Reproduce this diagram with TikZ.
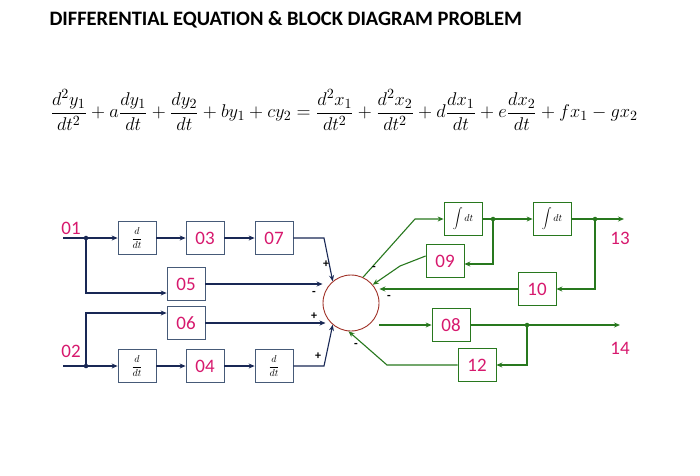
\documentclass[tikz,border=0pt]{standalone}
\usepackage{amsmath}
\usepackage{fontspec}
\setmainfont{Carlito}
\usetikzlibrary{arrows.meta}
\begin{document}
\begin{tikzpicture}[x=1pt,y=-1pt,
  navy/.style={draw={rgb,255:red,25;green,40;blue,85}, line width=1.1pt},
  grn/.style={draw={rgb,255:red,40;green,120;blue,30}, line width=1.1pt},
  arr/.style={-{Stealth[length=6pt,width=5pt]}},
  lbox/.style={draw={rgb,255:red,70;green,90;blue,120}, line width=0.8pt, minimum width=38pt, minimum height=33pt, inner sep=0pt, font=\fontsize{19}{19}\selectfont, text={rgb,255:red,215;green,25;blue,110}},
  rbox/.style={lbox, draw={rgb,255:red,40;green,120;blue,30}},
  mbox/.style={text=black, font=\fontsize{10}{10}\selectfont},
  lab/.style={font=\fontsize{19}{19}\selectfont, text={rgb,255:red,215;green,25;blue,110}},
  sg/.style={font=\fontsize{12}{12}\selectfont\bfseries},
  dot/.style={circle, fill, inner sep=1.6pt}]
\useasboundingbox (0,0) rectangle (700,475);
\fill[white] (0,0) rectangle (700,475);
\node[anchor=west, font=\fontsize{20.5}{20}\selectfont\bfseries] (title) at (46,20) {DIFFERENTIAL EQUATION \& BLOCK DIAGRAM PROBLEM};
\node[anchor=west, font=\fontsize{15}{15}\selectfont, scale=1.28, transform shape] (eq) at (46,110) {$\displaystyle \frac{d^2y_1}{dt^2}+a\frac{dy_1}{dt}+\frac{dy_2}{dt}+by_1+cy_2=\frac{d^2x_1}{dt^2}+\frac{d^2x_2}{dt^2}+d\frac{dx_1}{dt}+e\frac{dx_2}{dt}+fx_1-gx_2$};
% sum
\node[circle, draw={rgb,255:red,160;green,50;blue,40}, line width=0.9pt, minimum size=56pt, inner sep=0pt] (S) at (351,303) {};
% left boxes
\node[lbox,mbox] (d1) at (137,238) {$\dfrac{d}{dt}$};
\node[lbox] (b03) at (205,238) {03};
\node[lbox] (b07) at (274,238) {07};
\node[lbox] (b05) at (186,284) {05};
\node[lbox] (b06) at (186,323) {06};
\node[lbox,mbox] (d2) at (137,366) {$\dfrac{d}{dt}$};
\node[lbox] (b04) at (205,366) {04};
\node[lbox,mbox] (d3) at (274,366) {$\dfrac{d}{dt}$};
\node[lab] (l01) at (71,228) {01};
\node[lab] (l02) at (71,351) {02};
\coordinate (s1) at (63,238); \coordinate (s2) at (63,366);
\node[dot, fill={rgb,255:red,25;green,40;blue,85}] (j1) at (86,238) {};
\node[dot, fill={rgb,255:red,25;green,40;blue,85}] (j2) at (86,366) {};
\draw[navy] (s1) -- (j1);
\draw[navy,arr] (j1) -- (d1);
\draw[navy,arr] (d1) -- (b03);
\draw[navy,arr] (b03) -- (b07);
\draw[navy,arr] (j1) |- ([yshift=-9pt]b05.west);
\draw[navy,arr] (b07.east) -- (324,238) -- (S.130);
\draw[navy,arr] (b05.east) -- (S.west |- b05.east) ;
\draw[navy] (s2) -- (j2);
\draw[navy,arr] (j2) -- (d2);
\draw[navy,arr] (d2) -- (b04);
\draw[navy,arr] (b04) -- (d3);
\draw[navy,arr] (j2) |- ([yshift=10pt]b06.west);
\draw[navy,arr] (b06.east) -- (325.5,323);
\draw[navy,arr] (d3.east) -- (324,366) -- (S.230);
\node[sg] (p1) at (326,264) {+};
\node[sg] (m1) at (314,293) {-};
\node[sg] (p2) at (314,316) {+};
\node[sg] (p3) at (318,356) {+};
% right boxes
\node[rbox,mbox] (i1) at (463,219) {$\displaystyle\int dt$};
\node[rbox,mbox] (i2) at (552,219) {$\displaystyle\int dt$};
\node[rbox] (b09) at (445,261) {09};
\node[rbox] (b10) at (537,289) {10};
\node[rbox] (b08) at (451,325) {08};
\node[rbox] (b12) at (477,365) {12};
\node[lab] (l13) at (620,238) {13};
\node[lab] (l14) at (620,348) {14};
\coordinate (e13) at (624,219); \coordinate (e14) at (620,325);
\node[dot, fill={rgb,255:red,40;green,120;blue,30}] (j3) at (493,219) {};
\node[dot, fill={rgb,255:red,40;green,120;blue,30}] (j4) at (595,219) {};
\node[dot, fill={rgb,255:red,40;green,120;blue,30}] (j5) at (527,325) {};
\draw[grn,arr] (S.65) -- (415,219) -- (i1);
\draw[grn] (i1) -- (j3);
\draw[grn,arr] (j3) -- (i2);
\draw[grn] (i2) -- (j4);
\draw[grn,arr] (j4) -- (e13);
\draw[grn,arr] (j3) |- ([yshift=-3pt]b09.east);
\draw[grn,arr] ([yshift=5pt]b09.west) -- (400,266) -- (S.40);
\draw[grn,arr] (j4) |- (b10.east);
\draw[grn,arr] (b10.west) -- (S.east |- b10.west);
\draw[grn,arr] (S.east |- b08.west) -- (b08.west);
\draw[grn] (b08) -- (j5);
\draw[grn,arr] (j5) -- (e14);
\draw[grn,arr] (j5) |- (b12.east);
\draw[grn,arr] (b12.west) -- (387,365) -- (S.-95);
\node[sg] (m2) at (374,268) {-};
\node[sg] (m3) at (389,297) {-};
\node[sg] (m4) at (356,345) {-};
\end{tikzpicture}
\end{document}
